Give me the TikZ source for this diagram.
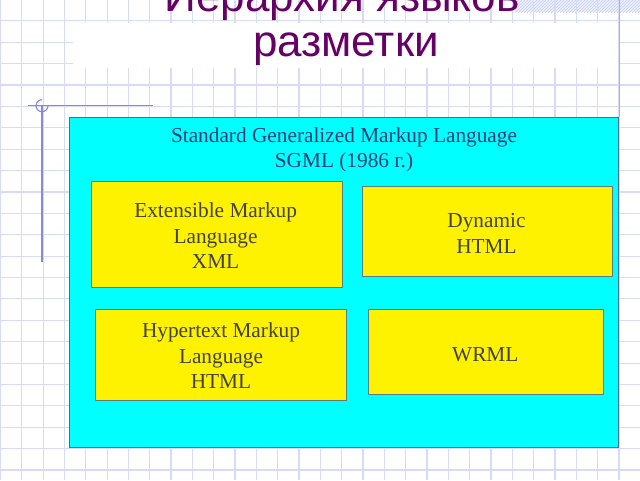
\documentclass[tikz,border=0pt]{standalone}
\usepackage{fontspec}
\setmainfont{Liberation Serif}
\newfontfamily\titlefont{Liberation Sans}
\usetikzlibrary{patterns}
\definecolor{gridc}{RGB}{214,220,248}
\definecolor{marginc}{RGB}{128,138,222}
\definecolor{titlec}{RGB}{102,0,102}
\definecolor{outerc}{RGB}{0,255,255}
\definecolor{outerb}{RGB}{70,110,150}
\definecolor{boxb}{RGB}{90,125,130}
\definecolor{hdrc}{RGB}{35,60,115}
\definecolor{txtc}{RGB}{66,66,58}
\definecolor{hatchc}{RGB}{200,208,240}
\begin{document}
\begin{tikzpicture}[x=1pt,y=-1pt,
  gridline/.style={draw=gridc,line width=1.1pt},
  marginline/.style={draw=marginc,line width=1.1pt},
  outerbox/.style={draw=outerb,fill=outerc,line width=1pt,inner sep=0pt},
  ybox/.style={draw=boxb,fill=yellow,line width=1pt,inner sep=0pt},
  btext/.style={font=\fontsize{21.3}{25.3}\selectfont,text=txtc,align=center,inner sep=0pt,anchor=base},
  htext/.style={font=\fontsize{21.3}{25.3}\selectfont,text=hdrc,align=center,inner sep=0pt,anchor=base},
  ttext/.style={font=\titlefont\fontsize{44}{45}\selectfont,text=titlec,align=center,inner sep=0pt,anchor=base}]
\useasboundingbox (0,0) rectangle (640,480);
\fill[white] (0,0) rectangle (640,480);
% hatched band at the top right
\fill[hatchc!35] (515,0) rectangle (640,12);
\fill[pattern=north east lines,pattern color=hatchc] (515,0) rectangle (640,12);
% grid paper
\foreach \k in {0,...,29} \draw[gridline] ({0.4+21.33*\k},0) -- ({0.4+21.33*\k},480);
\foreach \k in {-3,...,18} \draw[gridline] (0,{85+21.39*\k}) -- (640,{85+21.39*\k});
\draw[marginc!70,line width=1pt] (619,0) -- (619,117);
% white band behind the second title line
\fill[white] (73,23) rectangle (618,68);
% margin mark
\draw[marginline] (28,105.7) -- (153,105.7);
\draw[marginline] (42,105.7) -- (42,262);
\draw[marginline] (48,105.7) arc[start angle=0,end angle=270,radius=6];
% title
\node[ttext] (title1) at (342,11.7) {Иерархия языков};
\node[ttext] (title2) at (346,56.7) {разметки};
% boxes
\node[outerbox,minimum width=549.5pt,minimum height=330pt] (sgml) at (343.75,282) {};
\node[ybox,minimum width=251pt,minimum height=106pt] (xml) at (216.5,234) {};
\node[ybox,minimum width=250.3pt,minimum height=90pt] (dhtml) at (487.8,231.7) {};
\node[ybox,minimum width=251pt,minimum height=91pt] (html) at (221.2,354.5) {};
\node[ybox,minimum width=235pt,minimum height=85pt] (wrml) at (485.5,351.5) {};
% texts (base anchor = baseline of the last line)
\node[htext] (sgmlt) at (344,167.3) {Standard Generalized Markup Language\\SGML (1986 г.)};
\node[btext] (xmlt) at (215.6,268.3) {Extensible Markup\\Language\\XML};
\node[btext] (dhtmlt) at (486.5,253) {Dynamic\\HTML};
\node[btext] (htmlt) at (221,388.3) {Hypertext Markup\\Language\\HTML};
\node[btext] (wrmlt) at (485.3,361) {WRML};
\end{tikzpicture}
\end{document}
